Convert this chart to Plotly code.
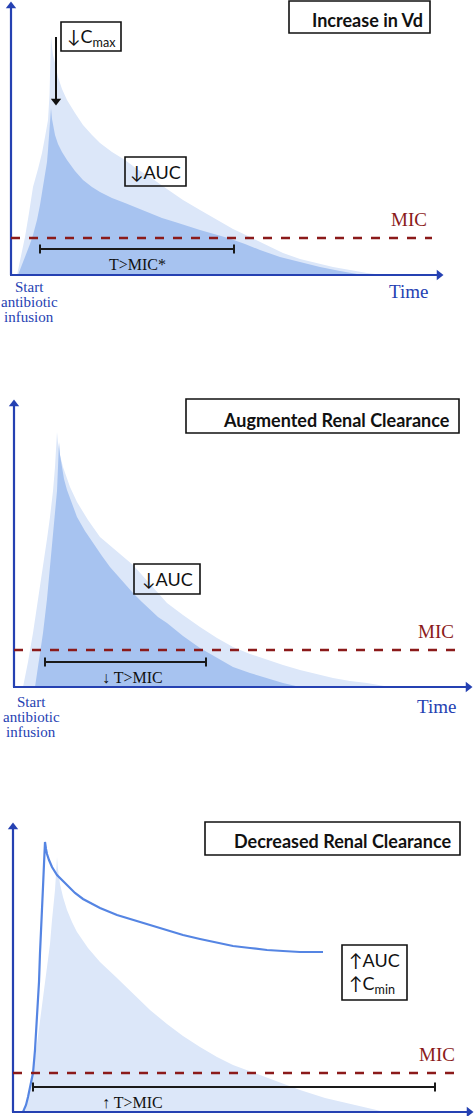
import plotly.graph_objects as go

# ---------------- data (x in time units, heights above the baseline) ----------------
# Panel 1: Increase in Vd
p1_light_t = [17, 21, 25, 29, 33, 38, 42, 45, 48, 49.5, 50.5, 51, 52, 53, 55, 58, 62, 67, 75, 83, 92, 100, 112, 125,
              137, 150, 167, 183, 200, 217, 233, 250, 267, 283, 300, 317, 333, 350, 367, 383]
p1_light_c = [0, 18, 38, 62, 88, 106, 122, 138, 155, 180, 210, 239, 228, 220, 212, 198, 186, 175, 162, 150, 140, 132,
              123, 115, 106, 98, 86, 75, 65, 55, 46, 38, 30, 22, 16, 12, 8, 5, 2, 0]
p1_dark_t = [18, 22, 26, 30, 33, 37, 40, 43, 45, 47, 48, 49, 50, 51, 52, 53, 55, 58, 62, 67, 75, 83, 92, 100, 112, 125,
             137, 150, 162, 175, 187, 200, 214, 228, 245, 260, 280, 300, 320, 340, 357, 372]
p1_dark_c = [0, 10, 20, 31, 40, 55, 70, 88, 100, 113, 125, 138, 150, 167, 156, 149, 140, 131, 123, 115, 104, 95, 88,
             83, 77, 72, 67, 62, 57, 53, 49, 45, 41, 37, 31, 25, 18, 13, 8, 4, 1, 0]

# Panel 2: Augmented renal clearance
p2_light_t = [23, 28, 33, 38, 43, 47, 50, 53, 55, 56.5, 57, 58, 60, 63, 67, 70, 77, 88, 100, 117, 133, 150, 167, 183,
              200, 217, 233, 250, 267, 283, 300, 317, 333, 350, 367, 390]
p2_light_c = [0, 25, 54, 86, 120, 148, 170, 196, 220, 240, 255, 244, 232, 220, 208, 200, 185, 167, 150, 136, 122, 103,
              84, 72, 60, 49, 40, 33, 27, 22, 17, 13, 9, 6, 4, 0]
p2_dark_t = [35, 39, 43, 47, 50, 53, 55, 57, 58, 59, 60, 62, 64, 67, 72, 77, 85, 93, 102, 110, 122, 133, 142, 150, 158,
             167, 183, 200, 217, 233, 250, 267, 283, 300]
p2_dark_c = [0, 26, 54, 88, 120, 148, 170, 196, 220, 245, 232, 220, 208, 197, 183, 170, 156, 144, 131, 120, 106, 94,
             85, 77, 70, 64, 51, 39, 29, 20, 14, 9, 4, 0]

# Panel 3: Decreased renal clearance
p3_light_t = [25, 29, 33, 37, 40, 44, 47, 50, 52, 54, 55, 56, 57, 58, 60, 63, 67, 72, 77, 88, 100, 117, 133, 150, 167,
              183, 200, 217, 233, 257, 280, 300, 325, 350, 368, 385]
p3_light_c = [0, 20, 42, 68, 92, 120, 142, 168, 192, 210, 222, 238, 255, 243, 228, 215, 202, 190, 180, 164, 150, 134,
              118, 102, 88, 76, 65, 55, 47, 38, 29, 22, 14, 8, 4, 0]
p3_line_t = [23, 26, 28, 31, 33, 35, 37, 39, 40, 42, 43, 44, 45, 46, 47, 49, 52, 57, 62, 67, 75, 83, 92, 100, 117, 133,
             150, 167, 183, 200, 217, 233, 250, 267, 283, 300, 323]
p3_line_c = [0, 7, 15, 28, 39, 62, 92, 130, 159, 195, 225, 248, 270, 263, 258, 252, 245, 237, 232, 226, 219, 213, 208,
             204, 197, 192, 187, 182, 177, 173, 169, 166, 164, 162, 161, 160, 160]

# annotation content
titles = ["Increase in Vd", "Augmented Renal Clearance", "Decreased Renal Clearance"]
tmic_labels = ["T>MIC*", "\u2193 T>MIC", "\u2191 T>MIC"]
start_lines = ["Start", "antibiotic", "infusion"]
mic_level = [37, 37, 39]
tmic_span = [(40, 234), (45, 206), (33, 435)]
tmic_drop = [11, 12, 14]

# ---------------- styling ----------------
W, H = 474, 1116
LIGHT = "#dce7f9"
DARK = "#a7c3f0"
AXIS = "#2541b2"
MICC = "#8b1a1a"
LINEC = "#5585e3"
SERIF = "Liberation Serif"
SANS = "Lato"
INK = "#111111"

# panel geometry in pixels: (band top, band bottom, baseline, y-axis x, axis top, x-axis end, MIC line end)
panels = [
    (0, 330, 275, 11, 2, 443, 432),
    (390, 750, 687, 14, 400, 472, 459),
    (780, 1116, 1112, 13, 823, 473, 460),
]

fig = go.Figure()
layout = dict(width=W, height=H, margin=dict(l=0, r=0, t=0, b=0),
              paper_bgcolor="white", plot_bgcolor="white", showlegend=False)
shapes, annos = [], []
axis_refs = []


def area(t, c, color, xa, ya):
    fig.add_trace(go.Scatter(x=t, y=c, fill="toself", fillcolor=color, mode="lines",
                             line=dict(width=0, color=color), hoverinfo="skip", xaxis=xa, yaxis=ya))


for i, (top, bot, base, yx, ytop, xend, micend) in enumerate(panels):
    n = "" if i == 0 else str(i + 1)
    xa, ya = "x" + n, "y" + n
    axis_refs.append((xa, ya))
    layout["xaxis" + n] = dict(domain=[0, 1], range=[0, W], visible=False, fixedrange=True, anchor=ya)
    layout["yaxis" + n] = dict(domain=[1 - bot / H, 1 - top / H], range=[-(bot - base), base - top],
                               visible=False, fixedrange=True, anchor=xa)

# curves
area(p1_light_t, p1_light_c, LIGHT, "x", "y")
area(p1_dark_t, p1_dark_c, DARK, "x", "y")
area(p2_light_t, p2_light_c, LIGHT, "x2", "y2")
area(p2_dark_t, p2_dark_c, DARK, "x2", "y2")
area(p3_light_t, p3_light_c, LIGHT, "x3", "y3")
fig.add_trace(go.Scatter(x=p3_line_t, y=p3_line_c, mode="lines",
                         line=dict(width=2.2, color=LINEC), hoverinfo="skip", xaxis="x3", yaxis="y3"))

for i, (top, bot, base, yx, ytop, xend, micend) in enumerate(panels):
    xa, ya = axis_refs[i]
    # axes
    shapes.append(dict(type="line", xref=xa, yref=ya, x0=yx, x1=yx, y0=0, y1=base - ytop - 6,
                       line=dict(color=AXIS, width=2.2), layer="above"))
    shapes.append(dict(type="line", xref=xa, yref=ya, x0=yx - 1, x1=xend - 6, y0=0, y1=0,
                       line=dict(color=AXIS, width=2.2), layer="above"))
    fig.add_trace(go.Scatter(x=[yx], y=[base - ytop - 4], mode="markers", hoverinfo="skip",
                             marker=dict(symbol="triangle-up", size=9, color=AXIS), xaxis=xa, yaxis=ya))
    fig.add_trace(go.Scatter(x=[xend - 4], y=[0], mode="markers", hoverinfo="skip",
                             marker=dict(symbol="triangle-right", size=9, color=AXIS), xaxis=xa, yaxis=ya))

    # MIC line
    shapes.append(dict(type="line", xref=xa, yref=ya, x0=yx, x1=micend, y0=mic_level[i], y1=mic_level[i],
                       line=dict(color=MICC, width=2.5, dash="dash"), layer="above"))
    annos.append(dict(x=micend - 3, y=mic_level[i] + 6, xref=xa, yref=ya, text="MIC", showarrow=False,
                      xanchor="right", yanchor="bottom", font=dict(family=SERIF, size=19, color=MICC)))

    # T>MIC bar
    a, b = tmic_span[i]
    by = mic_level[i] - tmic_drop[i]
    shapes.append(dict(type="line", xref=xa, yref=ya, x0=a, x1=b, y0=by, y1=by,
                       line=dict(color="#1a1a1a", width=2), layer="above"))
    for xx in (a, b):
        shapes.append(dict(type="line", xref=xa, yref=ya, x0=xx, x1=xx, y0=by - 4.5, y1=by + 4.5,
                           line=dict(color="#1a1a1a", width=2), layer="above"))
    annos.append(dict(x=(137 if i == 0 else 132), y=by - 15, xref=xa, yref=ya, text=tmic_labels[i],
                      showarrow=False, xanchor="center", yanchor="middle",
                      font=dict(family=SERIF, size=16, color=INK)))


# ---------------- boxes & labels ----------------
def box(xa, ya, x0, x1, y0, y1, width=1.6):
    shapes.append(dict(type="rect", xref=xa, yref=ya, x0=x0, x1=x1, y0=y0, y1=y1,
                       line=dict(color=INK, width=width), fillcolor="rgba(0,0,0,0)", layer="above"))


def start_label(xa, ya, xc, h_first):
    for k, line in enumerate(start_lines):
        annos.append(dict(x=xc, y=h_first - 15 * k, xref=xa, yref=ya, text=line, showarrow=False,
                          xanchor="center", yanchor="middle", borderpad=0,
                          font=dict(family=SERIF, size=15, color=AXIS)))


# panel 1 (heights = 275 - pixel y)
box("x", "y", 289, 430, 275 - 33, 274)
annos.append(dict(x=425, y=275 - 20, xref="x", yref="y", text="<b>" + titles[0] + "</b>", showarrow=False,
                  xanchor="right", yanchor="middle", font=dict(family=SANS, size=18, color=INK)))
box("x", "y", 61, 121, 275 - 51, 275 - 22)
annos.append(dict(x=91, y=275 - 37, xref="x", yref="y", text="\u2193C<sub>max</sub>", showarrow=False,
                  xanchor="center", yanchor="middle", font=dict(family=SANS, size=18, color=INK)))
shapes.append(dict(type="line", xref="x", yref="y", x0=56, x1=56, y0=275 - 37, y1=275 - 100,
                   line=dict(color=INK, width=2), layer="above"))
fig.add_trace(go.Scatter(x=[56], y=[275 - 101], mode="markers", hoverinfo="skip",
                         marker=dict(symbol="triangle-down", size=9, color=INK), xaxis="x", yaxis="y"))
box("x", "y", 125, 186, 275 - 186, 275 - 157)
annos.append(dict(x=155.5, y=275 - 172, xref="x", yref="y", text="\u2193AUC", showarrow=False,
                  xanchor="center", yanchor="middle", font=dict(family=SANS, size=18, color=INK)))
annos.append(dict(x=408, y=275 - 291, xref="x", yref="y", text="Time", showarrow=False,
                  xanchor="center", yanchor="middle", font=dict(family=SERIF, size=19, color=AXIS)))
start_label("x", "y", 29, 275 - 287)

# panel 2 (heights = 687 - pixel y)
box("x2", "y2", 186, 459, 687 - 433, 687 - 399)
annos.append(dict(x=452, y=687 - 420, xref="x2", yref="y2", text="<b>" + titles[1] + "</b>", showarrow=False,
                  xanchor="right", yanchor="middle", font=dict(family=SANS, size=18, color=INK)))
box("x2", "y2", 134, 200, 687 - 594, 687 - 564)
annos.append(dict(x=167, y=687 - 579, xref="x2", yref="y2", text="\u2193AUC", showarrow=False,
                  xanchor="center", yanchor="middle", font=dict(family=SANS, size=18, color=INK)))
annos.append(dict(x=436, y=687 - 706, xref="x2", yref="y2", text="Time", showarrow=False,
                  xanchor="center", yanchor="middle", font=dict(family=SERIF, size=19, color=AXIS)))
start_label("x2", "y2", 31, 687 - 702)

# panel 3 (heights = 1112 - pixel y)
box("x3", "y3", 205, 460, 1112 - 855, 1112 - 822)
annos.append(dict(x=453, y=1112 - 841, xref="x3", yref="y3", text="<b>" + titles[2] + "</b>", showarrow=False,
                  xanchor="right", yanchor="middle", font=dict(family=SANS, size=18, color=INK)))
box("x3", "y3", 342, 407, 1112 - 1000, 1112 - 945)
annos.append(dict(x=374, y=1112 - 973, xref="x3", yref="y3", text="\u2191AUC<br>\u2191C<sub>min</sub>",
                  showarrow=False, xanchor="center", yanchor="middle", align="left",
                  font=dict(family=SANS, size=18, color=INK)))

layout["shapes"] = shapes
layout["annotations"] = annos
fig.update_layout(**layout)
fig.write_html("out.html", config={"displayModeBar": False},
               post_script="document.body.style.margin='0';document.body.style.overflow='hidden';")
